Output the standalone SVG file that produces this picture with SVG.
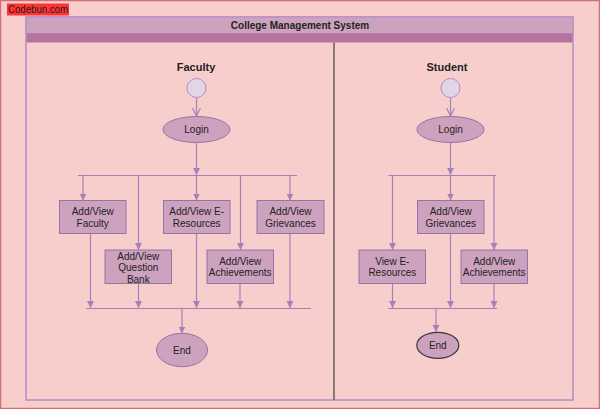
<svg xmlns="http://www.w3.org/2000/svg" width="600" height="409" viewBox="0 0 600 409">
<style>
text{font-family:"Liberation Sans",Arial,sans-serif;fill:#222;text-anchor:middle}
.t11{font-size:10px}
.hd{font-size:11px;font-weight:bold}
.box{fill:#cda2be;stroke:#9673a6;stroke-width:1}
.ln{stroke:#a680b8;stroke-width:1.2;fill:none}
</style>
<defs>
<marker id="fa" markerWidth="8" markerHeight="8" refX="7" refY="4" orient="auto" markerUnits="userSpaceOnUse">
<path d="M0,0.5 L7,4 L0,7.5 Z" fill="#a680b8"/>
</marker>
<marker id="oa" markerWidth="10" markerHeight="10" refX="8" refY="4" orient="auto" markerUnits="userSpaceOnUse">
<path d="M0,0 L8,4 L0,8" fill="none" stroke="#a680b8" stroke-width="1.2"/>
</marker>
</defs>
<rect x="0.5" y="0.5" width="599" height="408" fill="#f8cecc" stroke="#d07070" stroke-width="1.5"/>
<g id="watermark">
<rect x="7" y="3.5" width="62" height="12" fill="#ff3333"/>
<text x="38" y="13.3" style="font-size:10.5px" textLength="60" lengthAdjust="spacingAndGlyphs">Codebun.com</text>
</g>
<g id="pool">
<rect x="26" y="17" width="547" height="383" fill="none" stroke="#b38cc6" stroke-width="1.5"/>
<rect x="26" y="17" width="547" height="16.5" fill="#cda2be" stroke="#b38cc6" stroke-width="1"/>
<rect x="26.5" y="33.5" width="546" height="9" fill="#b5739d"/>
<text x="300" y="29" style="font-size:10px;font-weight:bold">College Management System</text>
<line x1="334" y1="42.5" x2="334" y2="400" stroke="#6b5a5a" stroke-width="1.5"/>
</g>
<g id="connectors">
<line class="ln" x1="196.5" y1="97.5" x2="196.5" y2="116" marker-end="url(#oa)"/>
<line class="ln" x1="196.5" y1="142.5" x2="196.5" y2="175" marker-end="url(#fa)"/>
<line class="ln" x1="78" y1="175.5" x2="297" y2="175.5"/>
<line class="ln" x1="83" y1="175.5" x2="83" y2="200.5" marker-end="url(#fa)"/>
<line class="ln" x1="138.5" y1="175.5" x2="138.5" y2="250" marker-end="url(#fa)"/>
<line class="ln" x1="196.5" y1="175.5" x2="196.5" y2="200.5" marker-end="url(#fa)"/>
<line class="ln" x1="240.5" y1="175.5" x2="240.5" y2="250" marker-end="url(#fa)"/>
<line class="ln" x1="290" y1="175.5" x2="290" y2="200.5" marker-end="url(#fa)"/>
<line class="ln" x1="90.5" y1="233.5" x2="90.5" y2="308" marker-end="url(#fa)"/>
<line class="ln" x1="138.5" y1="283.5" x2="138.5" y2="308" marker-end="url(#fa)"/>
<line class="ln" x1="196.5" y1="233.5" x2="196.5" y2="308" marker-end="url(#fa)"/>
<line class="ln" x1="240" y1="283.5" x2="240" y2="308" marker-end="url(#fa)"/>
<line class="ln" x1="290" y1="233.5" x2="290" y2="308" marker-end="url(#fa)"/>
<line class="ln" x1="86" y1="308.5" x2="311" y2="308.5"/>
<line class="ln" x1="182" y1="308.5" x2="182" y2="333.5" marker-end="url(#fa)"/>
<line class="ln" x1="450.5" y1="97.5" x2="450.5" y2="116" marker-end="url(#oa)"/>
<line class="ln" x1="450.5" y1="142.5" x2="450.5" y2="175" marker-end="url(#fa)"/>
<line class="ln" x1="388.5" y1="175.5" x2="496" y2="175.5"/>
<line class="ln" x1="392.5" y1="175.5" x2="392.5" y2="250" marker-end="url(#fa)"/>
<line class="ln" x1="450.5" y1="175.5" x2="450.5" y2="200.5" marker-end="url(#fa)"/>
<line class="ln" x1="494" y1="175.5" x2="494" y2="250" marker-end="url(#fa)"/>
<line class="ln" x1="392.5" y1="283.5" x2="392.5" y2="308" marker-end="url(#fa)"/>
<line class="ln" x1="450.5" y1="233.5" x2="450.5" y2="308" marker-end="url(#fa)"/>
<line class="ln" x1="494" y1="283.5" x2="494" y2="308" marker-end="url(#fa)"/>
<line class="ln" x1="388.5" y1="308.5" x2="497" y2="308.5"/>
<line class="ln" x1="436" y1="308.5" x2="436" y2="332" marker-end="url(#fa)"/>
</g>
<g id="faculty-label"><text class="hd" x="196" y="71">Faculty</text></g>
<g id="f-start"><circle cx="196.5" cy="88" r="9.5" fill="#e1d5e7" stroke="#b38cc6" stroke-width="1"/></g>
<g id="f-login"><ellipse class="box" cx="196.5" cy="129.5" rx="33.5" ry="13"/><text class="t11" x="196.5" y="133">Login</text></g>
<g id="f-faculty"><rect class="box" x="59.5" y="200.5" width="66.5" height="33"/><text class="t11" x="92.7" y="215">Add/View</text><text class="t11" x="92.7" y="226.5">Faculty</text></g>
<g id="f-eres"><rect class="box" x="163.5" y="200.5" width="66.5" height="33"/><text class="t11" x="196.7" y="215">Add/View E-</text><text class="t11" x="196.7" y="226.5">Resources</text></g>
<g id="f-griev"><rect class="box" x="257" y="200.5" width="67" height="33"/><text class="t11" x="290.5" y="215">Add/View</text><text class="t11" x="290.5" y="226.5">Grievances</text></g>
<g id="f-qbank"><rect class="box" x="105" y="250" width="66.5" height="33.5"/><text class="t11" x="138.3" y="259.5">Add/View</text><text class="t11" x="138.3" y="271">Question</text><text class="t11" x="138.3" y="282.5">Bank</text></g>
<g id="f-ach"><rect class="box" x="207" y="250" width="66.5" height="33.5"/><text class="t11" x="240.2" y="264.5">Add/View</text><text class="t11" x="240.2" y="276">Achievements</text></g>
<g id="f-end"><ellipse class="box" cx="182" cy="350" rx="25.5" ry="16.7"/><text class="t11" x="182" y="353.5">End</text></g>
<g id="student-label"><text class="hd" x="447" y="71">Student</text></g>
<g id="s-start"><circle cx="450.5" cy="88" r="9.5" fill="#e1d5e7" stroke="#b38cc6" stroke-width="1"/></g>
<g id="s-login"><ellipse class="box" cx="450.5" cy="129.5" rx="33.5" ry="13"/><text class="t11" x="450.5" y="133">Login</text></g>
<g id="s-griev"><rect class="box" x="417.5" y="200.5" width="66.5" height="33"/><text class="t11" x="450.7" y="215">Add/View</text><text class="t11" x="450.7" y="226.5">Grievances</text></g>
<g id="s-eres"><rect class="box" x="359" y="250" width="66.5" height="33.5"/><text class="t11" x="392.3" y="264.5">View E-</text><text class="t11" x="392.3" y="276">Resources</text></g>
<g id="s-ach"><rect class="box" x="461" y="250" width="66.5" height="33.5"/><text class="t11" x="494.2" y="264.5">Add/View</text><text class="t11" x="494.2" y="276">Achievements</text></g>
<g id="s-end"><ellipse cx="437.8" cy="345.3" rx="21" ry="13" fill="#cda2be" stroke="#36393d" stroke-width="1.2"/><text class="t11" x="437.8" y="348.8">End</text></g>
</svg>
